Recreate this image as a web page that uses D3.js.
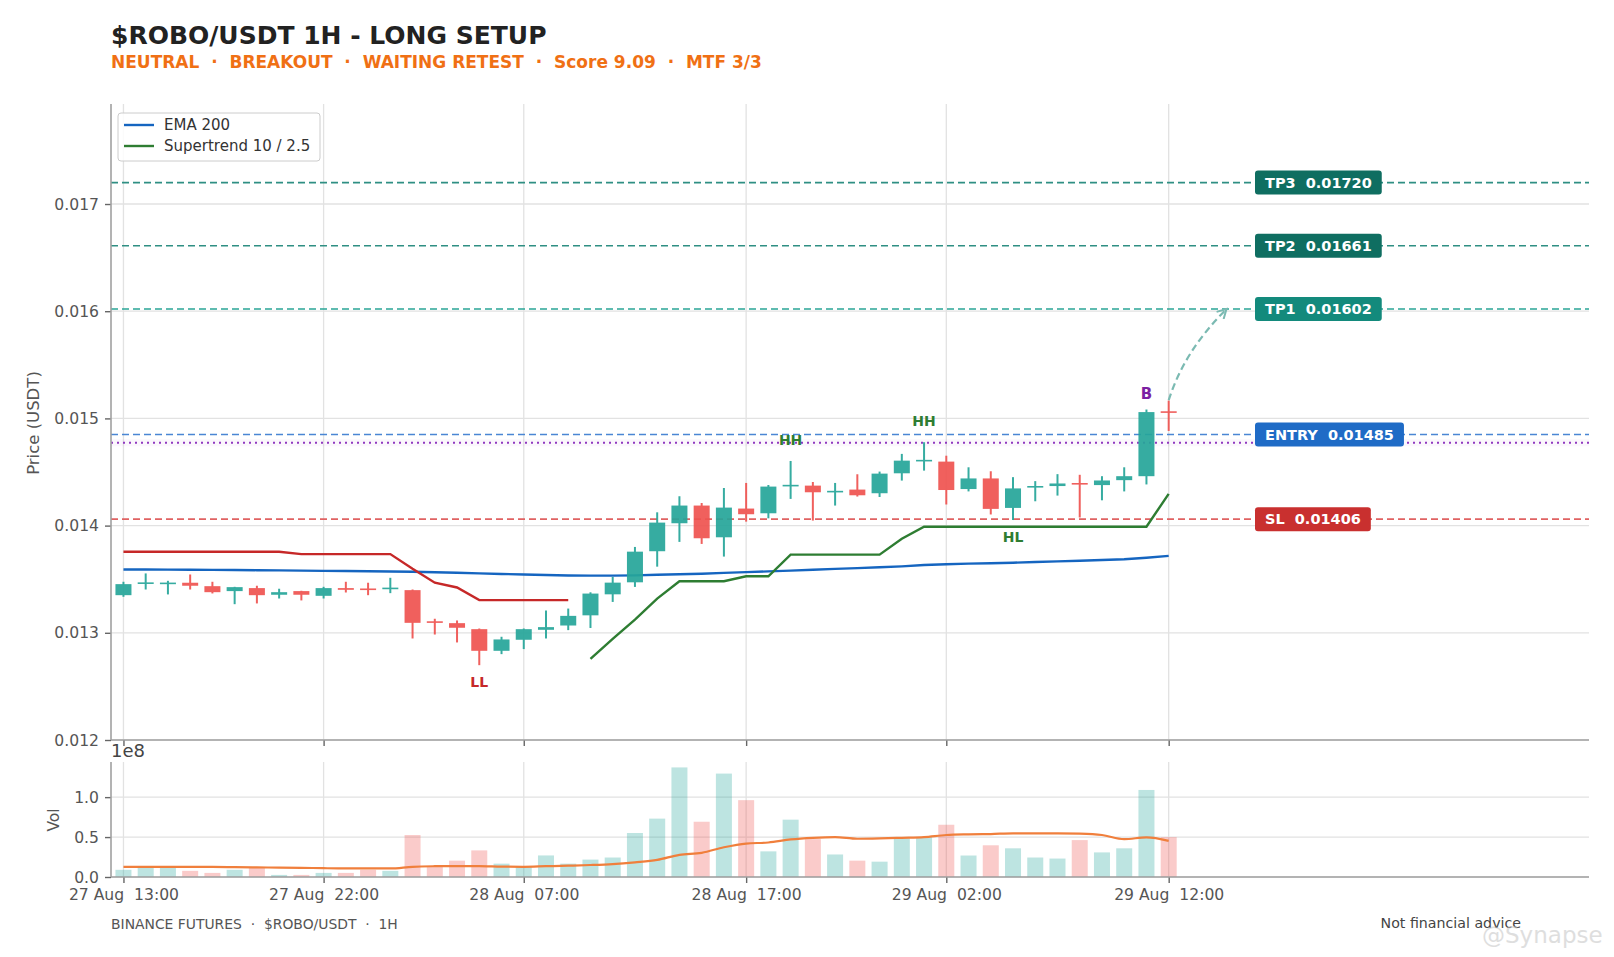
<!DOCTYPE html>
<html>
<head>
<meta charset="utf-8">
<script src="https://cdn.jsdelivr.net/npm/d3@7"></script>
<style>
  body { margin: 0; background: #fff; }
  text { font-family: "DejaVu Sans", sans-serif; }
</style>
</head>
<body>
<svg id="chart" width="1614" height="957"></svg>
<script>
// Candles, 1H, 27 Aug 13:00 -> 29 Aug 12:00
const opens  = [0.013351,0.013460,0.013458,0.013467,0.013435,0.013389,0.013417,0.013355,0.013389,0.013345,
                0.013417,0.013406,0.013410,0.013398,0.013100,0.013090,0.013034,0.012832,0.012935,0.013028,
                0.013068,0.013163,0.013359,0.013471,0.013761,0.014022,0.014187,0.013891,0.014159,0.014115,
                0.014366,0.014373,0.014311,0.014336,0.014302,0.014488,0.014600,0.014597,0.014341,0.014440,
                0.014165,0.014356,0.014369,0.014390,0.014378,0.014424,0.014461,0.015059];
const highs  = [0.013476,0.013554,0.013485,0.013544,0.013476,0.013429,0.013439,0.013411,0.013392,0.013429,
                0.013476,0.013467,0.013513,0.013404,0.013131,0.013115,0.013040,0.012963,0.013040,0.013208,
                0.013226,0.013378,0.013521,0.013801,0.014124,0.014274,0.014211,0.014351,0.014398,0.014379,
                0.014603,0.014407,0.014398,0.014479,0.014504,0.014669,0.014778,0.014652,0.014544,0.014507,
                0.014452,0.014415,0.014480,0.014474,0.014461,0.014544,0.015083,0.015166];
const lows   = [0.013336,0.013404,0.013358,0.013404,0.013367,0.013267,0.013274,0.013320,0.013302,0.013320,
                0.013376,0.013351,0.013370,0.012947,0.012984,0.012910,0.012698,0.012801,0.012848,0.012947,
                0.013025,0.013045,0.013288,0.013428,0.013617,0.013848,0.013829,0.013711,0.014037,0.014068,
                0.014249,0.014047,0.014187,0.014271,0.014267,0.014420,0.014513,0.014197,0.014319,0.014104,
                0.014052,0.014227,0.014280,0.014076,0.014236,0.014319,0.014384,0.014883];
const closes = [0.013454,0.013463,0.013461,0.013439,0.013379,0.013426,0.013351,0.013379,0.013355,0.013417,
                0.013401,0.013401,0.013414,0.013093,0.013096,0.013047,0.012832,0.012938,0.013034,0.013053,
                0.013158,0.013366,0.013468,0.013757,0.014028,0.014187,0.013882,0.014168,0.014106,0.014364,
                0.014373,0.014311,0.014317,0.014283,0.014485,0.014606,0.014606,0.014332,0.014440,0.014156,
                0.014347,0.014362,0.014393,0.014384,0.014421,0.014461,0.015059,0.015052];

// Volume (x 1e8) and its moving average
const volumes = [0.090,0.120,0.120,0.077,0.051,0.090,0.120,0.026,0.026,0.051,
                 0.051,0.090,0.077,0.526,0.130,0.205,0.333,0.167,0.130,0.270,
                 0.167,0.218,0.244,0.551,0.731,1.372,0.692,1.295,0.962,0.321,
                 0.718,0.474,0.282,0.205,0.192,0.487,0.500,0.654,0.269,0.397,
                 0.359,0.244,0.231,0.462,0.308,0.359,1.090,0.500];
const volMA   = [0.128,0.128,0.128,0.128,0.126,0.123,0.120,0.118,0.115,0.110,
                 0.107,0.107,0.107,0.128,0.135,0.137,0.137,0.130,0.128,0.135,
                 0.142,0.150,0.162,0.184,0.214,0.278,0.303,0.372,0.419,0.432,
                 0.470,0.491,0.500,0.479,0.483,0.491,0.500,0.526,0.534,0.538,
                 0.547,0.547,0.547,0.543,0.526,0.474,0.496,0.453];

// EMA 200
const ema200 = [0.013591,0.013590,0.013589,0.013588,0.013587,0.013586,0.013584,0.013582,0.013580,0.013578,
                0.013576,0.013574,0.013572,0.013569,0.013565,0.013560,0.013554,0.013549,0.013544,0.013539,
                0.013535,0.013533,0.013533,0.013536,0.013541,0.013546,0.013551,0.013559,0.013566,0.013573,
                0.013580,0.013588,0.013596,0.013603,0.013611,0.013620,0.013633,0.013640,0.013645,0.013649,
                0.013654,0.013660,0.013666,0.013672,0.013679,0.013686,0.013700,0.013718];

// Supertrend 10 / 2.5 (bearish part, then bullish part)
const stBear = [0.013756,0.013756,0.013756,0.013756,0.013756,0.013756,0.013756,0.013756,0.013734,0.013734,
                0.013734,0.013734,0.013734,0.013597,0.013467,0.013423,0.013305,0.013305,0.013305,0.013305,
                0.013305];
const stBullStart = 21;
const stBull = [0.012756,0.012943,0.013123,0.013319,0.013481,0.013481,0.013481,0.013527,0.013527,0.013729,
                0.013729,0.013729,0.013729,0.013729,0.013878,0.013990,0.013990,0.013990,0.013990,0.013990,
                0.013990,0.013990,0.013990,0.013990,0.013990,0.013990,0.014296];

// x tick labels
const tickIdx    = [0, 9, 18, 28, 37, 47];
const tickLabels = ["27 Aug  13:00", "27 Aug  22:00", "28 Aug  07:00", "28 Aug  17:00", "29 Aug  02:00", "29 Aug  12:00"];
const priceTicks = [0.012, 0.013, 0.014, 0.015, 0.016, 0.017];
const volTicks   = [0, 0.5, 1.0];

// trade levels
const levelNames  = ["TP3", "TP2", "TP1", "ENTRY", "SL"];
const levelPrices = [0.01720, 0.01661, 0.01602, 0.01485, 0.01406];
const levelLine   = ["#2f8f83", "#2f8f83", "#2aa597", "#4a86d4", "#e06262"];
const levelBox    = ["#0f6e61", "#0f6e61", "#138a7c", "#1f6bc6", "#c9302f"];
const triggerPrice = 0.014773;

// swing structure labels
const swingIdx  = [16, 30, 36, 40];
const swingText = ["LL", "HH", "HH", "HL"];
const swingPos  = ["below", "above", "above", "below"];

const svg = d3.select("#chart");
svg.append("rect").attr("width", 1614).attr("height", 957).attr("fill", "#fff");

const left = 111, right = 1589;
const pTop = 104, pBot = 740;
const vTop = 762, vBot = 877;

const x = d3.scaleLinear().domain([-0.56, 65.9]).range([left, right]);
const y = d3.scaleLinear().domain([0.012, 0.017933]).range([pBot, pTop]);
const yv = d3.scaleLinear().domain([0, 1.44]).range([vBot, vTop]);

const green = "#26a69a", red = "#ef5350";
const gridCol = "#e2e2e2";

// ---------- grids ----------
const grid = svg.append("g");
tickIdx.forEach(i => {
  grid.append("line").attr("x1", x(i)).attr("x2", x(i)).attr("y1", pTop).attr("y2", pBot)
    .attr("stroke", gridCol).attr("stroke-width", 1.3);
  grid.append("line").attr("x1", x(i)).attr("x2", x(i)).attr("y1", vTop).attr("y2", vBot)
    .attr("stroke", gridCol).attr("stroke-width", 1.3);
});
priceTicks.forEach(p => {
  grid.append("line").attr("x1", left).attr("x2", right).attr("y1", y(p)).attr("y2", y(p))
    .attr("stroke", gridCol).attr("stroke-width", 1.3);
});
volTicks.forEach(v => {
  grid.append("line").attr("x1", left).attr("x2", right).attr("y1", yv(v)).attr("y2", yv(v))
    .attr("stroke", gridCol).attr("stroke-width", 1.3);
});

// ---------- level lines ----------
const lv = svg.append("g");
lv.append("rect")
  .attr("x", left).attr("width", right - left)
  .attr("y", y(triggerPrice + 0.000033)).attr("height", y(triggerPrice - 0.000033) - y(triggerPrice + 0.000033))
  .attr("fill", "#9c27b0").attr("opacity", 0.04);
lv.append("line").attr("x1", left).attr("x2", right).attr("y1", y(triggerPrice)).attr("y2", y(triggerPrice))
  .attr("stroke", "#9038c0").attr("stroke-width", 2).attr("stroke-dasharray", "2,4");
levelPrices.forEach((p, i) => {
  lv.append("line").attr("x1", left).attr("x2", right).attr("y1", y(p)).attr("y2", y(p))
    .attr("stroke", levelLine[i]).attr("stroke-width", 1.6).attr("stroke-dasharray", "7,4");
});

// ---------- indicator lines ----------
const line = d3.line().x(d => x(d[0])).y(d => y(d[1]));
svg.append("path").datum(ema200.map((v, i) => [i, v]))
  .attr("d", line).attr("fill", "none").attr("stroke", "#1565c0").attr("stroke-width", 2.4);
svg.append("path").datum(stBear.map((v, i) => [i, v]))
  .attr("d", line).attr("fill", "none").attr("stroke", "#c62828").attr("stroke-width", 2.4);
svg.append("path").datum(stBull.map((v, i) => [i + stBullStart, v]))
  .attr("d", line).attr("fill", "none").attr("stroke", "#2e7d32").attr("stroke-width", 2.4);

// ---------- candles ----------
const bw = (x(1) - x(0)) * 0.72;
const candles = svg.append("g").selectAll("g").data(opens.map((o, i) => i)).enter().append("g")
  .attr("opacity", 0.92);
candles.append("line")
  .attr("x1", i => x(i)).attr("x2", i => x(i))
  .attr("y1", i => y(highs[i])).attr("y2", i => y(lows[i]))
  .attr("stroke", i => closes[i] >= opens[i] ? green : red).attr("stroke-width", 2);
candles.append("rect")
  .attr("x", i => x(i) - bw / 2).attr("width", bw)
  .attr("y", i => Math.min(y(opens[i]), y(closes[i])) - (Math.abs(y(opens[i]) - y(closes[i])) < 1.6 ? 0.8 : 0))
  .attr("height", i => Math.max(1.6, Math.abs(y(opens[i]) - y(closes[i]))))
  .attr("fill", i => closes[i] >= opens[i] ? green : red);

// ---------- swing labels ----------
swingIdx.forEach((i, k) => {
  const isUp = swingPos[k] === "above";
  svg.append("text")
    .attr("x", x(i))
    .attr("y", isUp ? y(highs[i]) - 16 : y(lows[i]) + 22)
    .attr("text-anchor", "middle")
    .attr("font-size", 14).attr("font-weight", "bold")
    .attr("fill", swingText[k] === "LL" ? "#c62828" : "#2e7d32")
    .text(swingText[k]);
});
// breakout marker
svg.append("text").attr("x", x(46)).attr("y", y(highs[46]) - 11)
  .attr("text-anchor", "middle").attr("font-size", 15).attr("font-weight", "bold")
  .attr("fill", "#7b1fa2").text("B");

// ---------- projection arrow ----------
const defs = svg.append("defs");
defs.append("marker").attr("id", "arr").attr("viewBox", "0 0 12 12")
  .attr("refX", 10).attr("refY", 6).attr("markerWidth", 12).attr("markerHeight", 12)
  .attr("markerUnits", "userSpaceOnUse").attr("orient", "auto")
  .append("path").attr("d", "M1,1 L10,6 L1,11").attr("fill", "none")
  .attr("stroke", "#7bbab2").attr("stroke-width", 2);
const a0 = [47, 0.01517], aC = [47.7, 0.01563], a1 = [49.6, 0.01602];
svg.append("path")
  .attr("d", `M${x(a0[0])},${y(a0[1])} Q${x(aC[0])},${y(aC[1])} ${x(a1[0])},${y(a1[1])}`)
  .attr("fill", "none").attr("stroke", "#7bbab2").attr("stroke-width", 2.2)
  .attr("stroke-dasharray", "7,4").attr("marker-end", "url(#arr)");

// ---------- level boxes ----------
levelPrices.forEach((p, i) => {
  const g = svg.append("g");
  const t = g.append("text").attr("x", 1265).attr("y", y(p) + 5.2)
    .attr("font-size", 14.5).attr("font-weight", "bold").attr("fill", "#fff")
    .style("white-space", "pre")
    .text(levelNames[i] + "  " + p.toFixed(5));
  const w = t.node().getComputedTextLength();
  g.insert("rect", "text").attr("x", 1255).attr("y", y(p) - 12).attr("width", w + 20).attr("height", 24)
    .attr("rx", 3).attr("fill", levelBox[i]);
});

// ---------- volume ----------
svg.append("g").selectAll("rect").data(volumes).enter().append("rect")
  .attr("x", (d, i) => x(i) - bw / 2).attr("width", bw)
  .attr("y", d => yv(d)).attr("height", d => vBot - yv(d))
  .attr("fill", (d, i) => closes[i] >= opens[i] ? green : red).attr("opacity", 0.3);
svg.append("path").datum(volMA)
  .attr("d", d3.line().x((d, i) => x(i)).y(d => yv(d)).curve(d3.curveMonotoneX))
  .attr("fill", "none").attr("stroke", "#f07f3c").attr("stroke-width", 2.2);

// ---------- axes ----------
function styleAxis(g) {
  g.select(".domain").remove();
  g.selectAll(".tick line").attr("stroke", "#666").attr("stroke-width", 1.4);
  g.selectAll(".tick text").attr("fill", "#555").attr("font-size", 15.6)
    .attr("font-family", "DejaVu Sans, sans-serif").style("white-space", "pre");
}
svg.append("g").attr("transform", `translate(${left},0)`)
  .call(d3.axisLeft(y).tickValues(priceTicks).tickFormat(d3.format(".3f")).tickSize(6).tickPadding(6))
  .call(styleAxis);
svg.append("g").attr("transform", `translate(${left},0)`)
  .call(d3.axisLeft(yv).tickValues(volTicks).tickFormat(d3.format(".1f")).tickSize(6).tickPadding(6))
  .call(styleAxis);
svg.append("g").attr("transform", `translate(0,${pBot})`)
  .call(d3.axisBottom(x).tickValues(tickIdx).tickFormat("").tickSize(6))
  .call(styleAxis);
svg.append("g").attr("transform", `translate(0,${vBot})`)
  .call(d3.axisBottom(x).tickValues(tickIdx).tickFormat((d, i) => tickLabels[i]).tickSize(6).tickPadding(6))
  .call(styleAxis);

// spines
const spine = svg.append("g").attr("stroke", "#a0a0a0").attr("stroke-width", 1.6);
spine.append("line").attr("x1", left).attr("x2", left).attr("y1", pTop).attr("y2", pBot);
spine.append("line").attr("x1", left).attr("x2", right).attr("y1", pBot).attr("y2", pBot);
spine.append("line").attr("x1", left).attr("x2", left).attr("y1", vTop).attr("y2", vBot);
spine.append("line").attr("x1", left).attr("x2", right).attr("y1", vBot).attr("y2", vBot);

svg.append("text").attr("x", left).attr("y", 757).attr("font-size", 18).attr("fill", "#444").text("1e8");

svg.append("text").attr("transform", "translate(39,423) rotate(-90)")
  .attr("text-anchor", "middle").attr("font-size", 16.5).attr("fill", "#555").text("Price (USDT)");
svg.append("text").attr("transform", "translate(59,820) rotate(-90)")
  .attr("text-anchor", "middle").attr("font-size", 15.5).attr("fill", "#555").text("Vol");

// ---------- legend ----------
const lg = svg.append("g");
lg.append("rect").attr("x", 118).attr("y", 113).attr("width", 202).attr("height", 48).attr("rx", 3)
  .attr("fill", "#fff").attr("fill-opacity", 0.85).attr("stroke", "#cccccc");
[["EMA 200", "#1565c0", 125], ["Supertrend 10 / 2.5", "#2e7d32", 146]].forEach(d => {
  lg.append("line").attr("x1", 124).attr("x2", 154).attr("y1", d[2]).attr("y2", d[2])
    .attr("stroke", d[1]).attr("stroke-width", 2.4);
  lg.append("text").attr("x", 164).attr("y", d[2] + 5).attr("font-size", 15).attr("fill", "#333").text(d[0]);
});

// ---------- titles ----------
svg.append("text").attr("x", left).attr("y", 44).attr("font-size", 25).attr("font-weight", "bold")
  .attr("fill", "#222").text("$ROBO/USDT 1H - LONG SETUP");
svg.append("text").attr("x", left).attr("y", 68).attr("font-size", 17).attr("font-weight", "bold")
  .attr("fill", "#f07014").style("white-space", "pre")
  .text("NEUTRAL  ·  BREAKOUT  ·  WAITING RETEST  ·  Score 9.09  ·  MTF 3/3");

// ---------- footer ----------
svg.append("text").attr("x", left).attr("y", 929).attr("font-size", 13.9).attr("fill", "#555")
  .style("white-space", "pre").text("BINANCE FUTURES  ·  $ROBO/USDT  ·  1H");
svg.append("text").attr("x", 1521).attr("y", 928).attr("text-anchor", "end").attr("font-size", 14.2)
  .attr("fill", "#444").text("Not financial advice");
svg.append("text").attr("x", 1482).attr("y", 943).attr("font-size", 23).attr("fill", "#c4c4c4")
  .attr("opacity", 0.55).text("@Synapse");
</script>
</body>
</html>
